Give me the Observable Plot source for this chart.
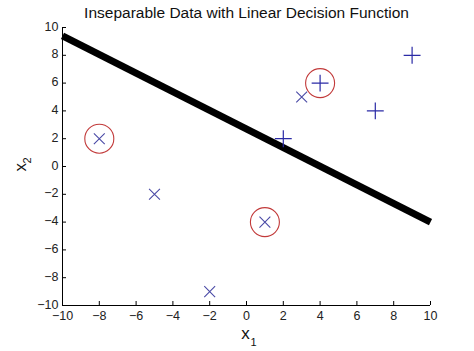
<!DOCTYPE html>
<html><head><meta charset="utf-8">
<script src="https://cdn.jsdelivr.net/npm/d3@7"></script>
<script src="https://cdn.jsdelivr.net/npm/@observablehq/plot@0.6"></script>
<style>body{margin:0;background:#fff}</style>
</head><body><div id="chart"></div>
<script>
const plusX = [2, 4, 7, 9];
const plusY = [2, 6, 4, 8];
const crossX = [-8, -5, -2, 1, 3];
const crossY = [2, -2, -9, -4, 5];
const circledX = [-8, 1, 4];
const circledY = [2, -4, 6];
const lineX = [-10, 10];
const lineY = [9.4, -4];
const ticks = [-10, -8, -6, -4, -2, 0, 2, 4, 6, 8, 10];
const title = "Inseparable Data with Linear Decision Function";

const plus = plusX.map((x, i) => ({x, y: plusY[i]}));
const cross = crossX.map((x, i) => ({x, y: crossY[i]}));
const circled = circledX.map((x, i) => ({x, y: circledY[i]}));
const line = lineX.map((x, i) => ({x, y: lineY[i]}));

const W = 474, H = 351, ML = 62, MR = 44, MT = 27, MB = 46;
const font = "'Liberation Sans', Arial, sans-serif";
const chart = Plot.plot({
  width: W, height: H,
  marginLeft: ML, marginRight: MR, marginTop: MT, marginBottom: MB,
  style: {fontFamily: font, fontSize: "12px", color: "#222", background: "#fff"},
  x: {domain: [-10, 10], ticks, label: null},
  y: {domain: [-10, 10], ticks, label: null},
  marks: [
    Plot.axisX({ticks, tickSize: 0, tickPadding: 6, label: null, fontSize: 12.5}),
    Plot.axisY({ticks, tickSize: 0, tickPadding: 4, label: null, fontSize: 12.5, dy: -1}),
    Plot.tickX(ticks, {x: d => d, insetTop: (H - MT - MB) - 4, stroke: "#000"}),
    Plot.tickY(ticks, {y: d => d, insetRight: (W - ML - MR) - 4, stroke: "#000"}),
    Plot.ruleY([-10], {stroke: "#000"}),
    Plot.ruleX([-10], {stroke: "#000"}),
    Plot.line(line, {x: "x", y: "y", stroke: "#000", strokeWidth: 7, strokeLinecap: "butt"}),
    Plot.dot(plus, {x: "x", y: "y", symbol: "plus", r: 5.5, stroke: "#2b2ba6", strokeWidth: 1.2}),
    Plot.dot(cross, {x: "x", y: "y", symbol: "times", r: 5, stroke: "#4a4aa6", strokeWidth: 1.1}),
    Plot.dot(circled, {x: "x", y: "y", r: 14.5, stroke: "#c23a3a", strokeWidth: 1.1, fill: "none"}),
    Plot.text([title], {frameAnchor: "top", lineAnchor: "middle", dy: -14, fontSize: 15.5, fill: "#111", text: d => d}),
    Plot.text(["x"], {frameAnchor: "bottom", lineAnchor: "middle", dy: 28, dx: -1, fontSize: 17, fill: "#111", text: d => d}),
    Plot.text(["1"], {frameAnchor: "bottom", lineAnchor: "middle", dy: 37, dx: 7, fontSize: 11, fill: "#111", text: d => d}),
    Plot.text(["x"], {frameAnchor: "left", lineAnchor: "middle", dx: -42, dy: 5, rotate: -90, fontSize: 17, fill: "#111", text: d => d}),
    Plot.text(["2"], {frameAnchor: "left", lineAnchor: "middle", dx: -35, dy: -3, rotate: -90, fontSize: 11, fill: "#111", text: d => d})
  ]
});
document.getElementById("chart").appendChild(chart);
</script>
</body></html>
